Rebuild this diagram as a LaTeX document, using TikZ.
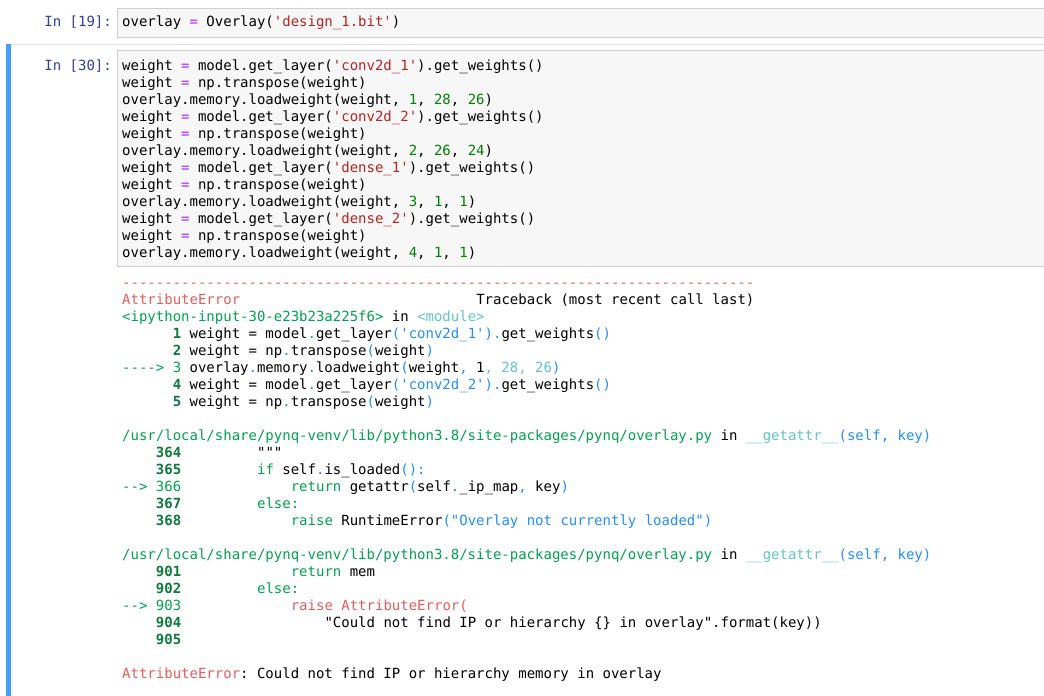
\documentclass[tikz,border=0pt]{standalone}
\usepackage{fontspec}
\setmonofont{DejaVu Sans Mono}
\definecolor{pr}{HTML}{303F9F}
\definecolor{eq}{HTML}{AA22FF}
\definecolor{st}{HTML}{BA2121}
\definecolor{nm}{HTML}{008000}
\definecolor{er}{HTML}{E75C58}
\definecolor{gr}{HTML}{00A250}
\definecolor{dg}{HTML}{0B7A3A}
\definecolor{cy}{HTML}{60C6C8}
\definecolor{bl}{HTML}{208FFB}
\newcounter{lnc}
\newcommand\Lx[3]{\stepcounter{lnc}\node[txt] (t\arabic{lnc}) at ({122+#2*8.43},{#1+5}) {#3};}
\newcommand\E{\textcolor{eq}{=}}
\newcommand\Sx[1]{\textcolor{st}{#1}}
\newcommand\Nx[1]{\textcolor{nm}{#1}}
\newcommand\Cb[1]{\textcolor{bl}{#1}}
\newcommand\Cc[1]{\textcolor{cy}{#1}}
\newcommand\Cg[1]{\textcolor{gr}{#1}}
\newcommand\Cr[1]{\textcolor{er}{#1}}
\newcommand\Bn[1]{\textcolor{dg}{\bfseries #1}}
\begin{document}
\begin{tikzpicture}[x=1pt,y=-1pt,
  txt/.style={anchor=base west,inner sep=0pt,font=\ttfamily\fontsize{14}{17}\selectfont},
  prm/.style={anchor=base east,inner sep=0pt,text=pr,font=\ttfamily\fontsize{14}{17}\selectfont},
  cell/.style={fill=black!3,draw=black!19,line width=0.8pt}]
\useasboundingbox (0,0) rectangle (1044,696);
\fill[white] (0,0) rectangle (1044,696);
% cell 19
\draw[cell] (117.5,8.5) rectangle (1050,37.5);
\node[prm] (p19) at (112,27) {In [19]:};
\Lx{22}{0}{overlay \E{} Overlay(\Sx{'design\_1.bit'})}
% cell 30
\draw[black!12,line width=0.8pt] (6,44.5) -- (1044,44.5);
\fill[bl!85!white] (6,44) rectangle (11,696);
\draw[cell] (117.5,50.5) rectangle (1050,266.5);
\node[prm] (p30) at (112,70) {In [30]:};
\Lx{65}{0}{weight \E{} model.get\_layer(\Sx{'conv2d\_1'}).get\_weights()}
\Lx{82}{0}{weight \E{} np.transpose(weight)}
\Lx{99}{0}{overlay.memory.loadweight(weight, \Nx{1}, \Nx{28}, \Nx{26})}
\Lx{116}{0}{weight \E{} model.get\_layer(\Sx{'conv2d\_2'}).get\_weights()}
\Lx{133}{0}{weight \E{} np.transpose(weight)}
\Lx{150}{0}{overlay.memory.loadweight(weight, \Nx{2}, \Nx{26}, \Nx{24})}
\Lx{167}{0}{weight \E{} model.get\_layer(\Sx{'dense\_1'}).get\_weights()}
\Lx{184}{0}{weight \E{} np.transpose(weight)}
\Lx{201}{0}{overlay.memory.loadweight(weight, \Nx{3}, \Nx{1}, \Nx{1})}
\Lx{218}{0}{weight \E{} model.get\_layer(\Sx{'dense\_2'}).get\_weights()}
\Lx{235}{0}{weight \E{} np.transpose(weight)}
\Lx{252}{0}{overlay.memory.loadweight(weight, \Nx{4}, \Nx{1}, \Nx{1})}
% output
\Lx{282}{0}{\Cr{---------------------------------------------------------------------------}}
\Lx{299}{0}{\Cr{AttributeError}}
\Lx{299}{42}{Traceback (most recent call last)}
\Lx{316}{0}{\Cg{<ipython-input-30-e23b23a225f6>} in \Cc{<module>}}
\Lx{333}{6}{\Bn{1} weight = model\Cb{.}get\_layer\Cb{('conv2d\_1')}\Cb{.}get\_weights\Cb{()}}
\Lx{350}{6}{\Bn{2} weight = np\Cb{.}transpose\Cb{(}weight\Cb{)}}
\Lx{367}{0}{\Cg{----> 3} overlay\Cb{.}memory\Cb{.}loadweight\Cb{(}weight\Cb{,} 1\Cc{, 28, 26}\Cb{)}}
\Lx{384}{6}{\Bn{4} weight = model\Cb{.}get\_layer\Cb{('conv2d\_2')}\Cb{.}get\_weights\Cb{()}}
\Lx{401}{6}{\Bn{5} weight = np\Cb{.}transpose\Cb{(}weight\Cb{)}}
\Lx{435}{0}{\Cg{/usr/local/share/pynq-venv/lib/python3.8/site-packages/pynq/overlay.py} in \Cc{\_\_getattr\_\_}\Cb{(self, key)}}
\Lx{452}{4}{\Bn{364}}\Lx{452}{16}{"""}
\Lx{469}{4}{\Bn{365}}\Lx{469}{16}{\Cg{if} self\Cb{.}is\_loaded\Cb{():}}
\Lx{486}{0}{\Cg{--> 366}}\Lx{486}{20}{\Cg{return} getattr\Cb{(}self\Cb{.}\_ip\_map\Cb{,} key\Cb{)}}
\Lx{503}{4}{\Bn{367}}\Lx{503}{16}{\Cg{else:}}
\Lx{520}{4}{\Bn{368}}\Lx{520}{20}{\Cg{raise} RuntimeError\Cb{("Overlay not currently loaded")}}
\Lx{554}{0}{\Cg{/usr/local/share/pynq-venv/lib/python3.8/site-packages/pynq/overlay.py} in \Cc{\_\_getattr\_\_}\Cb{(self, key)}}
\Lx{571}{4}{\Bn{901}}\Lx{571}{20}{\Cg{return} mem}
\Lx{588}{4}{\Bn{902}}\Lx{588}{16}{\Cg{else:}}
\Lx{605}{0}{\Cg{--> 903}}\Lx{605}{20}{\Cr{raise AttributeError(}}
\Lx{622}{4}{\Bn{904}}\Lx{622}{24}{"Could not find IP or hierarchy \{\} in overlay".format(key))}
\Lx{639}{4}{\Bn{905}}
\Lx{673}{0}{\Cr{AttributeError}: Could not find IP or hierarchy memory in overlay}
\end{tikzpicture}
\end{document}
